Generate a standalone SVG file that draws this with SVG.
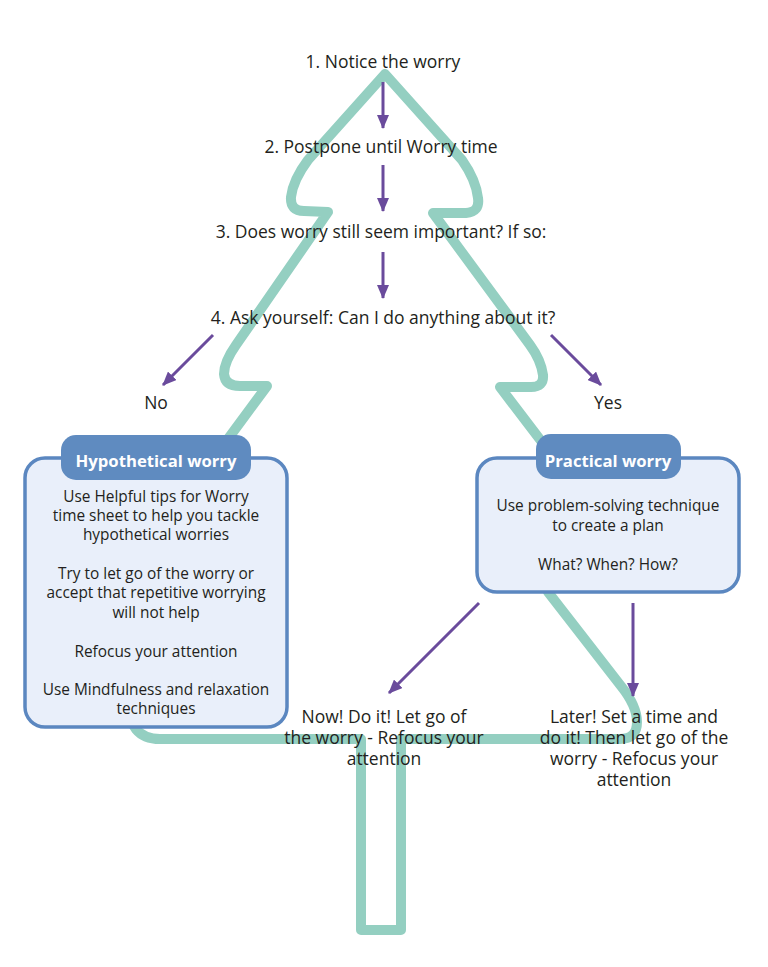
<svg xmlns="http://www.w3.org/2000/svg" width="768" height="967" viewBox="0 0 768 967">
<defs>
<style>
.tree{fill:none;stroke:#94cfc1;stroke-width:10;stroke-linejoin:round;stroke-linecap:round}
.arr{fill:none;stroke:#6a4b9c;stroke-width:3;marker-end:url(#ah)}
.t{font-family:"Open Sans","Liberation Sans",sans-serif;font-size:17.5px;fill:#231f20;text-anchor:middle}
.b{font-family:"Open Sans","Liberation Sans",sans-serif;font-size:15.4px;fill:#231f20;text-anchor:middle}
.h{font-family:"Open Sans","Liberation Sans",sans-serif;font-size:16.7px;font-weight:bold;fill:#ffffff;text-anchor:middle}
.box{fill:#e9effa;stroke:#5b87c0;stroke-width:3.5}
.tab{fill:#5f8bc0}
</style>
<marker id="ah" markerUnits="userSpaceOnUse" viewBox="0 0 14 12" markerWidth="14" markerHeight="12" refX="13" refY="6" orient="auto">
<path d="M0,0 L14,6 L0,12 Z" fill="#6a4b9c"/>
</marker>
</defs>
<rect width="768" height="967" fill="#ffffff"/>
<g id="tree">
<path class="tree" d="M401,930 L401,739 L620,739 Q637,739 637,722 Q637,706 621,686 L548,592 L548,450 L500,387 L531,387 Q544,387 543,375 Q541,360 530,345 L433,213 L466,213 Q480,212 478,198 Q476,180 462,160 L385,74 L308,160 Q293,180 291,197 Q290,211 304,211 L328,212 L236,345 Q224,362 224,374 Q225,386 240,386 L267,386 L222,447 L128,700 Q128,739 160,739 L361,739 L361,930 Z"/>
</g>
<g id="hypothetical">
<rect class="box" x="25" y="458" width="262" height="269" rx="20"/>
<rect class="tab" x="61" y="435" width="190" height="45" rx="15"/>
<text class="h" x="156" y="467">Hypothetical worry</text>
<text class="b" x="156" y="502">Use Helpful tips for Worry</text>
<text class="b" x="156" y="521">time sheet to help you tackle</text>
<text class="b" x="156" y="540">hypothetical worries</text>
<text class="b" x="156" y="579">Try to let go of the worry or</text>
<text class="b" x="156" y="598">accept that repetitive worrying</text>
<text class="b" x="156" y="618">will not help</text>
<text class="b" x="156" y="657">Refocus your attention</text>
<text class="b" x="156" y="695">Use Mindfulness and relaxation</text>
<text class="b" x="156" y="714">techniques</text>
</g>
<g id="practical">
<rect class="box" x="477" y="458" width="262" height="134" rx="20"/>
<rect class="tab" x="536" y="434" width="145" height="45" rx="15"/>
<text class="h" x="608" y="467">Practical worry</text>
<text class="b" x="608" y="511">Use problem-solving technique</text>
<text class="b" x="608" y="531">to create a plan</text>
<text class="b" x="608" y="570">What? When? How?</text>
</g>
<g id="connectors">
<line class="arr" x1="383" y1="82" x2="383" y2="128"/>
<line class="arr" x1="383" y1="165" x2="383" y2="211"/>
<line class="arr" x1="383" y1="252" x2="383" y2="298"/>
<line class="arr" x1="213" y1="335" x2="163" y2="385"/>
<line class="arr" x1="551" y1="335" x2="601" y2="385"/>
<line class="arr" x1="479" y1="603" x2="389" y2="693"/>
<line class="arr" x1="633" y1="603" x2="633" y2="696"/>
</g>
<g id="step1"><text class="t" x="383" y="68">1. Notice the worry</text></g>
<g id="step2"><text class="t" x="381" y="153">2. Postpone until Worry time</text></g>
<g id="step3"><text class="t" x="381" y="238">3. Does worry still seem important? If so:</text></g>
<g id="step4"><text class="t" x="383" y="324">4. Ask yourself: Can I do anything about it?</text></g>
<g id="no"><text class="t" x="156" y="409">No</text></g>
<g id="yes"><text class="t" x="608" y="409">Yes</text></g>
<g id="now">
<text class="t" x="384" y="723">Now! Do it! Let go of</text>
<text class="t" x="384" y="744">the worry - Refocus your</text>
<text class="t" x="384" y="765">attention</text>
</g>
<g id="later">
<text class="t" x="634" y="723">Later! Set a time and</text>
<text class="t" x="634" y="744">do it! Then let go of the</text>
<text class="t" x="634" y="765">worry - Refocus your</text>
<text class="t" x="634" y="786">attention</text>
</g>
</svg>
